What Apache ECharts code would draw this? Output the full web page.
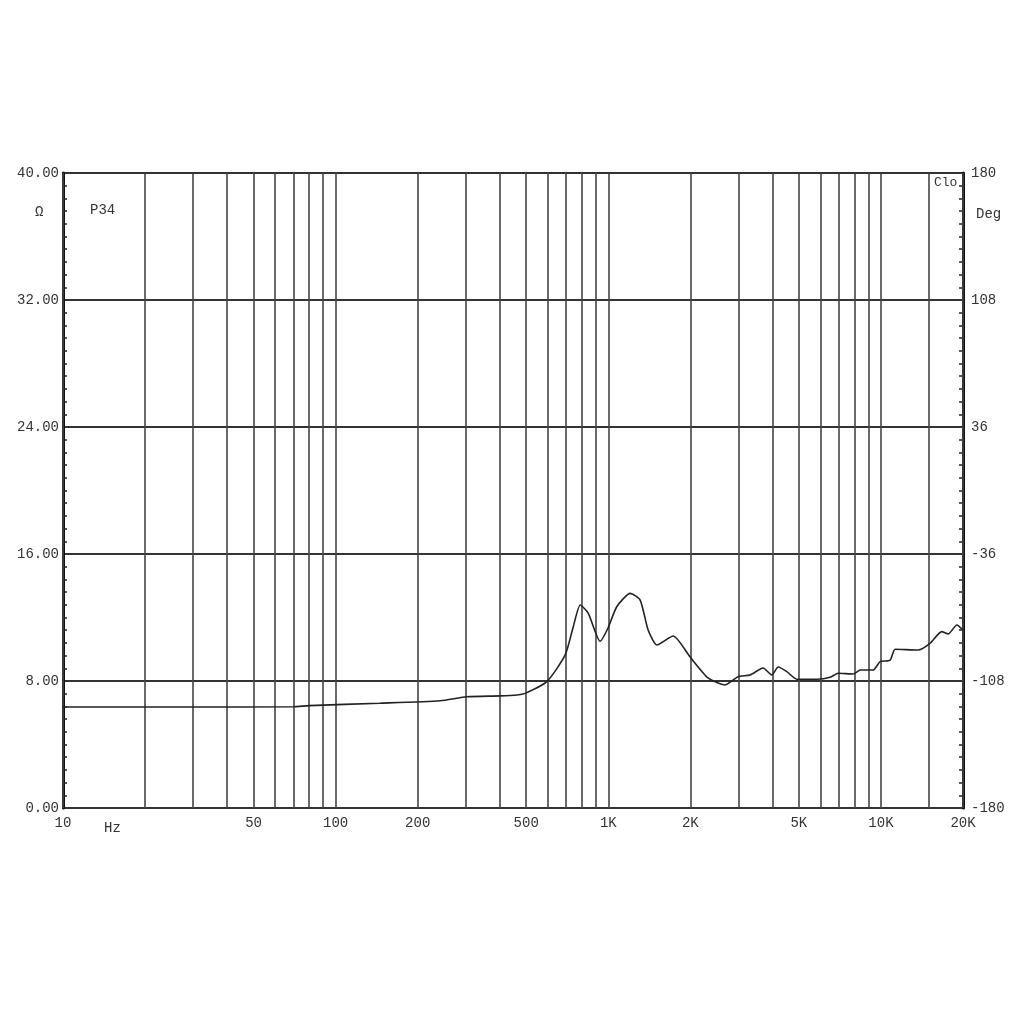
<!DOCTYPE html>
<html>
<head>
<meta charset="utf-8">
<script src="https://cdn.jsdelivr.net/npm/echarts@6/dist/echarts.min.js"></script>
<style>
  html, body { margin: 0; padding: 0; background: #fff; }
  #chart { width: 1024px; height: 1024px; }
</style>
</head>
<body>
<div id="chart"></div>
<script>
// impedance curve (Hz, ohm)
const freqs = [10, 30, 70, 80, 145, 242, 303, 401, 463, 495, 595, 695, 744, 789, 844, 933, 998,
  1074, 1203, 1309, 1400, 1507, 1730, 1996, 2324, 2681, 2992, 3311, 3696, 3981, 4198, 4518, 4917,
  5821, 6516, 6968, 7907, 8394, 9357, 9934, 10810, 11280, 13690, 15140, 16710, 17640, 18980, 20000];
const ohms = [6.36, 6.36, 6.38, 6.45, 6.6, 6.76, 7.01, 7.06, 7.12, 7.22, 7.96, 9.64, 11.42, 12.79, 12.28, 10.5, 11.34,
  12.68, 13.52, 13.1, 11.21, 10.27, 10.83, 9.51, 8.19, 7.75, 8.27, 8.38, 8.82, 8.38, 8.88, 8.59, 8.11,
  8.11, 8.23, 8.49, 8.44, 8.69, 8.69, 9.22, 9.32, 10.0, 9.95, 10.37, 11.11, 10.96, 11.53, 11.21];

// vertical grid lines and the ones that carry a label
const gridFreqs = [10, 20, 30, 40, 50, 60, 70, 80, 90, 100, 200, 300, 400, 500, 600, 700, 800, 900,
  1000, 2000, 3000, 4000, 5000, 6000, 7000, 8000, 9000, 10000, 15000, 20000];
const freqLabels = { 10: '10', 50: '50', 100: '100', 200: '200', 500: '500', 1000: '1K',
  2000: '2K', 5000: '5K', 10000: '10K', 20000: '20K' };

const fontFam = '"Liberation Mono", "DejaVu Sans Mono", monospace';

const chart = echarts.init(document.getElementById('chart'));

const option = {
    backgroundColor: '#fff',
    animation: false,
    grid: {
        left: 63, right: 61, top: 173, bottom: 216,
        show: true, borderColor: '#666', borderWidth: 2
    },
    xAxis: {
        type: 'log',
        logBase: 10,
        min: 10,
        max: 20000,
        axisLine: { show: false },
        axisTick: { show: false },
        axisLabel: { show: false },
        splitLine: { show: false }
    },
    yAxis: [
        {
            type: 'value',
            min: 0, max: 40, interval: 8,
            position: 'left',
            axisLine: { show: true, lineStyle: { color: '#111', width: 3 } },
            axisTick: { show: false, inside: true },
            minorTick: { show: true, splitNumber: 10, length: 4, lineStyle: { color: '#222', width: 1.5 } },
            axisLabel: {
                margin: 4, color: '#333', fontFamily: fontFam, fontSize: 14,
                formatter: v => v.toFixed(2)
            },
            splitLine: { show: true, lineStyle: { color: '#333', width: 2 } }
        },
        {
            type: 'value',
            min: -180, max: 180, interval: 72,
            position: 'right',
            axisLine: { show: true, lineStyle: { color: '#111', width: 3 } },
            axisTick: { show: false, inside: true },
            minorTick: { show: true, splitNumber: 10, length: 4, lineStyle: { color: '#222', width: 1.5 } },
            axisLabel: { margin: 8, color: '#333', fontFamily: fontFam, fontSize: 14 },
            splitLine: { show: false }
        }
    ],
    graphic: [
        { type: 'text', left: 35, top: 205, style: { text: 'Ω', fontFamily: fontFam, fontSize: 14, fill: '#333' } },
        { type: 'text', left: 90, top: 203, style: { text: 'P34', fontFamily: fontFam, fontSize: 14, fill: '#333' } },
        { type: 'text', left: 104, top: 821, style: { text: 'Hz', fontFamily: fontFam, fontSize: 14, fill: '#333' } },
        { type: 'text', left: 976, top: 207, style: { text: 'Deg', fontFamily: fontFam, fontSize: 14, fill: '#333' } },
        { type: 'text', left: 933, top: 176, style: { text: 'Clo', fontFamily: fontFam, fontSize: 13, fill: '#333',
            backgroundColor: '#fff', padding: [0, 1] } }
    ],
    series: [
        {
            type: 'line',
            yAxisIndex: 0,
            data: freqs.map((f, i) => [f, ohms[i]]),
            showSymbol: false,
            smooth: 0.2,
            lineStyle: { color: '#222', width: 1.6 },
            z: 5,
            markLine: {
                silent: true,
                symbol: 'none',
                animation: false,
                lineStyle: { color: '#444', width: 1.6, type: 'solid' },
                label: { show: false },
                data: gridFreqs.map(f => ({
                    xAxis: f,
                    label: freqLabels[f] ? {
                        show: true, position: 'start', distance: 8,
                        formatter: freqLabels[f], color: '#333',
                        fontFamily: fontFam, fontSize: 14
                    } : { show: false }
                }))
            }
        }
    ]
};

chart.setOption(option);
</script>
</body>
</html>
